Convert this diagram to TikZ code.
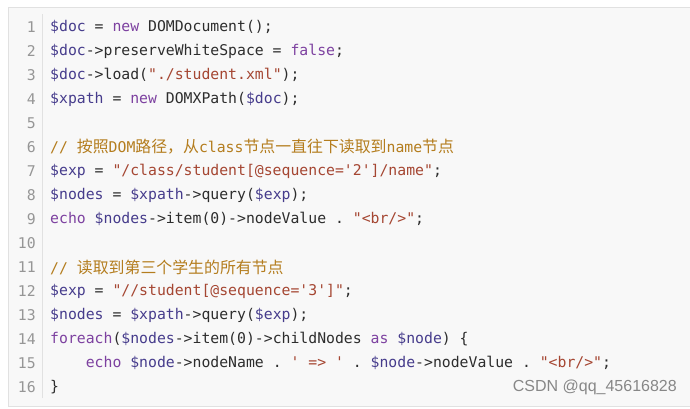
\documentclass[tikz,border=0pt]{standalone}
\usepackage{fontspec}
\setmainfont{Liberation Sans}
\setmonofont{DejaVu Sans Mono}[Scale=0.93]
\newfontfamily\cjk{Noto Sans CJK SC}
\definecolor{panelbg}{RGB}{248,248,248}
\definecolor{panelline}{RGB}{225,225,225}
\definecolor{plain}{RGB}{45,45,45}
\definecolor{varcol}{RGB}{70,60,140}
\definecolor{kwcol}{RGB}{125,65,160}
\definecolor{strcol}{RGB}{165,70,50}
\definecolor{cmtcol}{RGB}{180,125,30}
\definecolor{numcol}{RGB}{150,150,150}
\newcommand{\vr}[1]{\textcolor{varcol}{#1}}
\newcommand{\kw}[1]{\textcolor{kwcol}{#1}}
\newcommand{\cstr}[1]{\textcolor{strcol}{#1}}
\newcommand{\cmt}[1]{\textcolor{cmtcol}{#1}}
\begin{document}
\begin{tikzpicture}[
	x=1pt,y=1pt,
	codeline/.style={
		anchor=west,
		inner sep=0pt,
		text=plain,
		font=\ttfamily\fontsize{15.9}{17}\selectfont
	},
	linenum/.style={
		anchor=east,
		inner sep=0pt,
		text=numcol,
		font=\ttfamily\fontsize{15.9}{17}\selectfont
	},
]
\useasboundingbox (0,0) rectangle (690,408);
\fill[white] (0,0) rectangle (690,408);
\draw[panelline,fill=panelbg] (8,2) rectangle (690,401);
\draw[panelline] (42,10) -- (42,394);

\foreach \i in {1,...,16} {
	\node[linenum] (n\i) at (36,{381-24*(\i-1)}) {\i};
}

\node[codeline] (l1) at (50,381) {\vr{\$doc} = \kw{new} DOMDocument();};
\node[codeline] (l2) at (50,357) {\vr{\$doc}->preserveWhiteSpace = \kw{false};};
\node[codeline] (l3) at (50,333) {\vr{\$doc}->load(\cstr{"./student.xml"});};
\node[codeline] (l4) at (50,309) {\vr{\$xpath} = \kw{new} DOMXPath(\vr{\$doc});};
\node[codeline] (l6) at (50,261) {\cmt{// {\cjk 按照}DOM{\cjk 路径，从}class{\cjk 节点一直往下读取到}name{\cjk 节点}}};
\node[codeline] (l7) at (50,237) {\vr{\$exp} = \cstr{"/class/student[@sequence='2']/name"};};
\node[codeline] (l8) at (50,213) {\vr{\$nodes} = \vr{\$xpath}->query(\vr{\$exp});};
\node[codeline] (l9) at (50,189) {\kw{echo} \vr{\$nodes}->item(0)->nodeValue . \cstr{"<br/>"};};
\node[codeline] (l11) at (50,141) {\cmt{// {\cjk 读取到第三个学生的所有节点}}};
\node[codeline] (l12) at (50,117) {\vr{\$exp} = \cstr{"//student[@sequence='3']"};};
\node[codeline] (l13) at (50,93) {\vr{\$nodes} = \vr{\$xpath}->query(\vr{\$exp});};
\node[codeline] (l14) at (50,69) {\kw{foreach}(\vr{\$nodes}->item(0)->childNodes \kw{as} \vr{\$node}) \{};
\node[codeline] (l15) at (50,45) {\phantom{xxxx}\kw{echo} \vr{\$node}->nodeName . \cstr{' => '} . \vr{\$node}->nodeValue . \cstr{"<br/>"};};
\node[codeline] (l16) at (50,21) {\}};

\node[anchor=east,inner sep=0pt,text=numcol!90!black,font=\fontsize{16}{18}\selectfont] (mark) at (677,21) {CSDN @qq\_45616828};
\end{tikzpicture}
\end{document}
